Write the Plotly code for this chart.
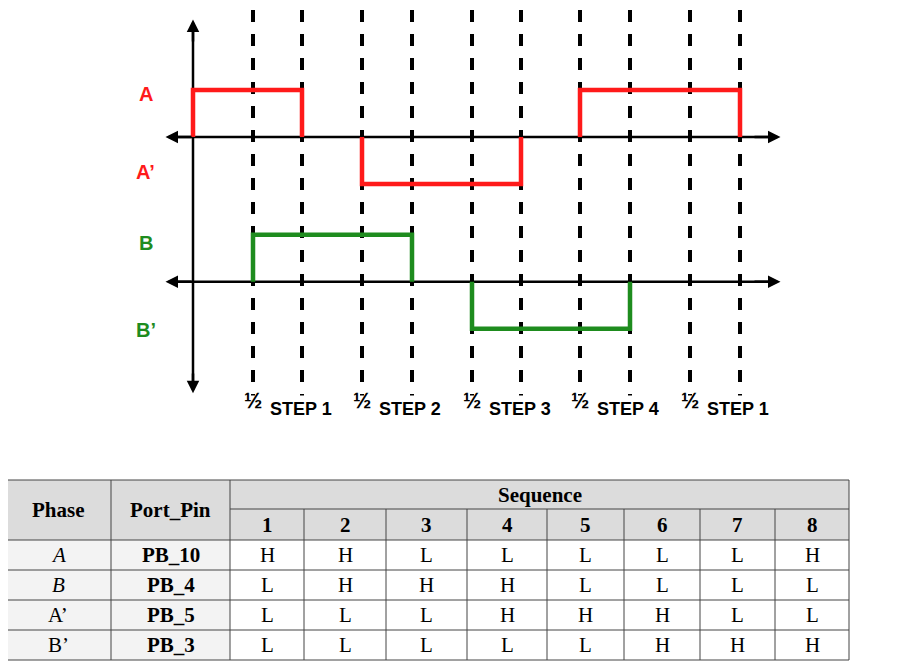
import plotly.graph_objects as go

# ---- timing diagram data (time in half-step units, level in amplitude units)
dash_times = [1.2, 2.18, 3.38, 4.38, 5.58, 6.56, 7.74, 8.74, 9.94, 10.94]
step_labels = ["STEP 1", "STEP 2", "STEP 3", "STEP 4", "STEP 1"]

a_t = [0, 0, 2.18, 2.18, None, 3.38, 3.38, 6.56, 6.56, None, 7.74, 7.74, 10.94, 10.94]
a_v = [0, 1, 1, 0, None, 0, -1, -1, 0, None, 0, 1, 1, 0]
b_t = [1.2, 1.2, 4.38, 4.38, None, 5.58, 5.58, 8.74, 8.74]
b_v = [0, 1, 1, 0, None, 0, -1, -1, 0]
b_base = -3.08
channel_names = ["A", "A’", "B", "B’"]
channel_label_y = [0.92, -0.75, -2.26, -4.1]
channel_colors = ["#ff1a1a", "#ff1a1a", "#1e8c1e", "#1e8c1e"]

# ---- table data
seq = ["1", "2", "3", "4", "5", "6", "7", "8"]
phases = ["<i>A</i>", "<i>B</i>", "A’", "B’"]
pins = ["PB_10", "PB_4", "PB_5", "PB_3"]
states = [
    ["H", "H", "L", "L", "L", "L", "L", "H"],
    ["L", "H", "H", "H", "L", "L", "L", "L"],
    ["L", "L", "L", "H", "H", "H", "L", "L"],
    ["L", "L", "L", "L", "L", "H", "H", "H"],
]

RED, GREEN = "#ff1a1a", "#1e8c1e"
fig = go.Figure()

# dashed lines
for t in dash_times:
    fig.add_trace(go.Scatter(x=[t, t], y=[2.7, -5.5], mode="lines",
                             line=dict(color="black", width=4, dash="dash"),
                             hoverinfo="skip"))
# axes lines
for base in [0, b_base]:
    fig.add_trace(go.Scatter(x=[-0.45, 11.65], y=[base, base], mode="lines",
                             line=dict(color="black", width=2.5), hoverinfo="skip"))
fig.add_trace(go.Scatter(x=[0, 0], y=[2.4, -5.35], mode="lines",
                         line=dict(color="black", width=2.5), hoverinfo="skip"))
fig.add_trace(go.Scatter(x=a_t, y=a_v, mode="lines", line=dict(color=RED, width=4.5)))
fig.add_trace(go.Scatter(x=b_t, y=[None if v is None else v + b_base for v in b_v], mode="lines",
                         line=dict(color=GREEN, width=4.5)))

ann = []
arrow = dict(xref="x", yref="y", axref="x", ayref="y", showarrow=True, arrowhead=2,
             arrowsize=1, arrowwidth=2.5, arrowcolor="black", text="")
for base in [0, b_base]:
    ann.append(dict(arrow, x=11.75, y=base, ax=11.2, ay=base))
    ann.append(dict(arrow, x=-0.55, y=base, ax=0, ay=base))
ann.append(dict(arrow, x=0, y=2.5, ax=0, ay=2.0))
ann.append(dict(arrow, x=0, y=-5.45, ax=0, ay=-5.0))
for name, ly, col in zip(channel_names, channel_label_y, channel_colors):
    ann.append(dict(x=-0.95, y=ly, xref="x", yref="y", text=f"<b>{name}</b>", showarrow=False,
                    font=dict(family="Liberation Sans", size=20, color=col)))
for i, lab in enumerate(step_labels):
    ann.append(dict(x=dash_times[2 * i] - 0.22, y=-5.6, xref="x", yref="y", text="<b>½</b>",
                    showarrow=False, xanchor="left",
                    font=dict(family="Liberation Sans", size=22, color="black")))
    ann.append(dict(x=dash_times[2 * i] + 0.3, y=-5.78, xref="x", yref="y", text=f"<b>{lab}</b>",
                    showarrow=False, xanchor="left",
                    font=dict(family="Liberation Sans", size=18, color="black")))

# table (page pixel coords on second axes)
col_edges = [5, 111, 230, 304, 386, 467, 547, 624, 700, 775, 849]
row_edges = [480, 509, 540, 570, 600, 630, 660]
shapes = []
shapes.append(dict(type="rect", xref="x2", yref="y2", x0=col_edges[0], x1=col_edges[-1],
                   y0=row_edges[0], y1=row_edges[2], fillcolor="#dcdcdc", line_width=0, layer="below"))
shapes.append(dict(type="rect", xref="x2", yref="y2", x0=col_edges[0], x1=col_edges[2],
                   y0=row_edges[2], y1=row_edges[-1], fillcolor="#f3f3f3", line_width=0, layer="below"))
lc = dict(color="#444", width=1)
for i, x in enumerate(col_edges):
    top = row_edges[1] if 2 < i < len(col_edges) - 1 else row_edges[0]
    shapes.append(dict(type="line", xref="x2", yref="y2", x0=x, x1=x, y0=top, y1=row_edges[-1], line=lc))
for j, y in enumerate(row_edges):
    x0 = col_edges[2] if j == 1 else col_edges[0]
    shapes.append(dict(type="line", xref="x2", yref="y2", x0=x0, x1=col_edges[-1], y0=y, y1=y, line=lc))

tf = dict(family="Liberation Serif", size=21, color="black")
def cell(x, y, s, bold=False):
    ann.append(dict(x=x, y=y, xref="x2", yref="y2", text=f"<b>{s}</b>" if bold else s,
                    showarrow=False, font=tf))
mid = lambda a, b: (a + b) / 2
cell(mid(col_edges[0], col_edges[1]), mid(row_edges[0], row_edges[2]), "Phase", True)
cell(mid(col_edges[1], col_edges[2]), mid(row_edges[0], row_edges[2]), "Port_Pin", True)
cell(mid(col_edges[2], col_edges[-1]), mid(row_edges[0], row_edges[1]), "Sequence", True)
for k, s in enumerate(seq):
    cell(mid(col_edges[k + 2], col_edges[k + 3]), mid(row_edges[1], row_edges[2]), s, True)
for r in range(4):
    yc = mid(row_edges[r + 2], row_edges[r + 3])
    cell(mid(col_edges[0], col_edges[1]), yc, phases[r])
    cell(mid(col_edges[1], col_edges[2]), yc, pins[r], True)
    for k, s in enumerate(states[r]):
        cell(mid(col_edges[k + 2], col_edges[k + 3]), yc, s)

# page has 8px body margin: figure spans page pixels 8..910 x 8..663
fig.update_layout(
    width=902, height=655, margin=dict(l=0, r=0, t=0, b=0),
    plot_bgcolor="white", paper_bgcolor="white", showlegend=False,
    xaxis=dict(range=[(8 - 193) / 50, (910 - 193) / 50], domain=[0, 1], visible=False, fixedrange=True),
    yaxis=dict(range=[(137 - 663) / 47, (137 - 8) / 47], domain=[0, 1], visible=False, fixedrange=True),
    xaxis2=dict(range=[8, 910], domain=[0, 1], visible=False, overlaying="x", anchor="y2"),
    yaxis2=dict(range=[663, 8], domain=[0, 1], visible=False, overlaying="y", anchor="x2"),
    annotations=ann, shapes=shapes,
)
fig.add_trace(go.Scatter(x=[None], y=[None], xaxis="x2", yaxis="y2"))
fig.write_html("out.html")
